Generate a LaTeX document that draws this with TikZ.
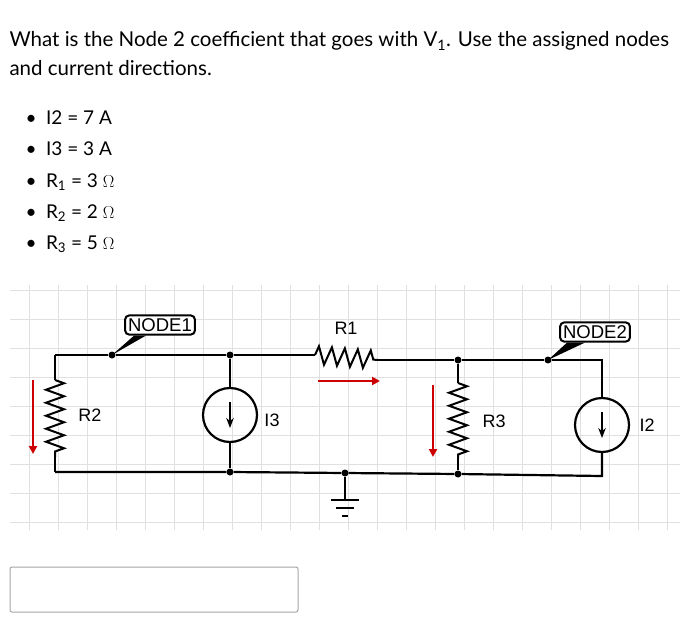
\documentclass[tikz,border=0pt]{standalone}
\usepackage{fontspec}
\setmainfont{Lato}
\newfontfamily\cirfont{Liberation Sans}
\usetikzlibrary{decorations.pathmorphing,arrows.meta}
\begin{document}
\begin{tikzpicture}[x=1pt,y=-1pt,
    wire/.style={line width=2.2pt},
    res/.style={line width=2pt,decorate,decoration={zigzag,segment length=13pt,amplitude=9pt}},
    cur/.style={draw=red!80!black,line width=2.8pt,-{Triangle[length=8pt,width=8pt]}},
    dot/.style={circle,fill=black,inner sep=0pt,minimum size=7pt},
    src/.style={circle,draw,line width=2.2pt,inner sep=0pt,minimum size=54pt},
    tag/.style={draw,line width=2pt,rounded corners=4pt,fill=white,font=\cirfont\fontsize{18.5}{20}\selectfont,inner sep=3pt},
    lbl/.style={font=\cirfont\fontsize{18}{20}\selectfont}]
\useasboundingbox[fill=white] (0,0) rectangle (700,639);
% question text
\node[anchor=base west,font=\fontsize{20.5}{24}\selectfont] (q1) at (6,47) {What is the Node 2 coefficient that goes with V\textsubscript{1}. Use the assigned nodes};
\node[anchor=base west,font=\fontsize{20.5}{24}\selectfont] (q2) at (6,76) {and current directions.};
\foreach \t [count=\i] in {I2 = 7 A, I3 = 3 A, R\textsubscript{1} = 3 $\Omega$, R\textsubscript{2} = 2 $\Omega$, R\textsubscript{3} = 5 $\Omega$}
  \node[anchor=base west,font=\fontsize{19}{22}\selectfont] (b\i) at (22,94+31*\i) {\textbullet\enspace\t};
% grid
\draw[black!12,line width=0.8pt] (10,285) grid[step=29pt] (680,530);
% nodes
\node[dot] (n1) at (112,355) {};
\node[dot] (t3) at (230,355) {};
\node[dot] (b3) at (230,472) {};
\node[dot] (g) at (345,473) {};
\node[dot] (t4) at (458,360) {};
\node[dot] (b4) at (458,474) {};
\node[dot] (n2) at (548,360) {};
\coordinate (tl) at (55,355);
\coordinate (bl) at (55,472);
\coordinate (tr) at (602,360);
\coordinate (br) at (602,476);
\coordinate (r1a) at (315,355);
\coordinate (r1b) at (378,360);
\node[src] (i3) at (230,415) {};
\node[src] (i2) at (602,425) {};
% wires
\draw[wire] (tl) -- (n1) -- (t3) -- (r1a);
\draw[wire] (r1b) -- (t4) -- (n2) -- (tr) -- (i2);
\draw[wire] (i2) -- (br) -- (b4) -- (g) -- (b3) -- (bl);
\draw[wire] (t3) -- (i3) -- (b3);
\draw[wire] (tl) -- (55,380);
\draw[res] (55,380) -- (55,457);
\draw[wire] (55,457) -- (bl);
\draw[wire] (t4) -- (458,383);
\draw[res] (458,383) -- (458,458);
\draw[wire] (458,458) -- (b4);
\draw[res] (r1a) -- (r1b);
\draw[wire,-{Stealth[length=10pt]}] ([yshift=13pt]i3.center) -- ([yshift=-13pt]i3.center);
\draw[wire,-{Stealth[length=10pt]}] ([yshift=13pt]i2.center) -- ([yshift=-13pt]i2.center);
% ground
\draw[wire] (g) -- (345,500);
\draw[wire] (331,500) -- (359,500) (336,508) -- (354,508) (342,516) -- (348,516);
% currents
\draw[cur] (33,380) -- (33,454);
\draw[cur] (318,381) -- (380,381);
\draw[cur] (433,385) -- (433,457);
% labels
\node[lbl] (lr2) at (90,415) {R2};
\node[lbl] (li3) at (272,420) {I3};
\node[lbl] (lr1) at (346,328) {R1};
\node[lbl] (lr3) at (494,421) {R3};
\node[lbl] (li2) at (647,425) {I2};
\node[tag] (tg1) at (160,325) {NODE1};
\node[tag] (tg2) at (595,332) {NODE2};
\fill (n1.center) -- ([xshift=-14pt]tg1.south) -- ([xshift=10pt]tg1.south west) -- cycle;
\fill (n2.center) -- ([xshift=-10pt]tg2.south) -- ([xshift=8pt]tg2.south west) -- cycle;
% answer box
\draw[black!35,line width=1pt,rounded corners=2pt] (10,567) rectangle (298,612);
\end{tikzpicture}
\end{document}
